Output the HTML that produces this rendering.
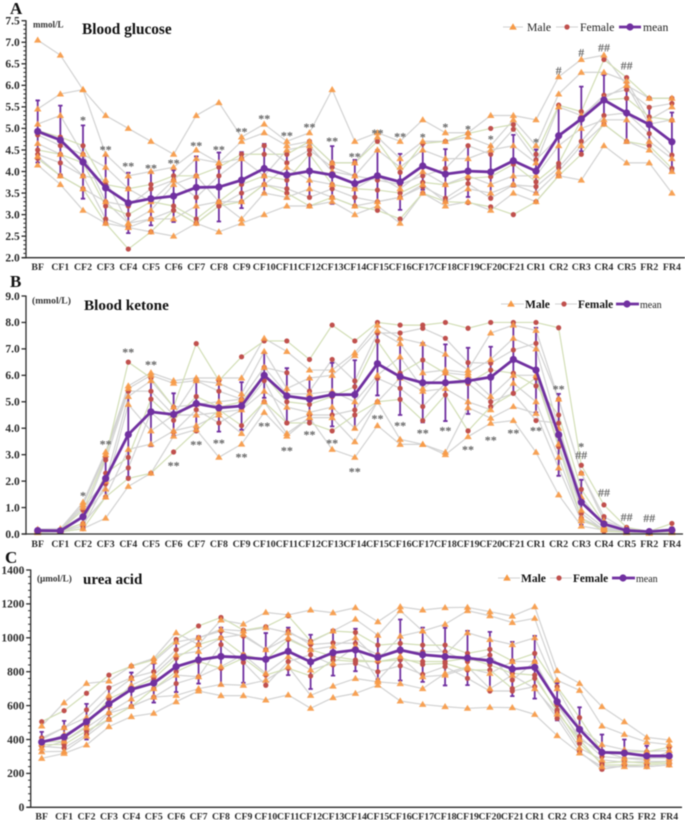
<!DOCTYPE html>
<html lang="en">
<head>
<meta charset="utf-8">
<title>Blood glucose, ketone and urea acid</title>
<style>
html,body{margin:0;padding:0;background:#fff;width:685px;height:820px;overflow:hidden}
svg{display:block;filter:blur(0.4px)}
text{font-family:"Liberation Serif",serif}
</style>
</head>
<body>
<svg id="chart" xmlns="http://www.w3.org/2000/svg" width="685" height="820" viewBox="0 0 685 820">
  <rect width="685" height="820" fill="#fff"/>
  <g id="panel-a"></g>
  <g id="panel-b"></g>
  <g id="panel-c"></g>

  <text x="10" y="14" font-size="17" font-weight="bold" fill="#111">A</text>
  <text x="10" y="287" font-size="17" font-weight="bold" fill="#111">B</text>
  <text x="5" y="563" font-size="17" font-weight="bold" fill="#111">C</text>

  <text x="82" y="34" font-size="15.3" font-weight="bold" fill="#111">Blood glucose</text>
  <text x="84" y="310" font-size="15.2" font-weight="bold" fill="#111">Blood ketone</text>
  <text x="83" y="584" font-size="15" font-weight="bold" fill="#111">urea acid</text>

  <text x="33" y="27.5" font-size="9" font-weight="bold" fill="#333">mmol/L</text>
  <text x="32" y="303.5" font-size="9.6" font-weight="bold" fill="#333">(mmol/L)</text>
  <text x="37" y="581.5" font-size="9.2" font-weight="bold" fill="#333">(μmol/L)</text>

  <g>
    <g>
      <line x1="503" y1="27" x2="523" y2="27" stroke="#d0d0d0" stroke-width="1.1"/>
      <polygon points="513,23.2 516.8,29.6 509.2,29.6" fill="#f79a46"/>
      <text x="527" y="31" font-size="11.7" fill="#222">Male</text>
    </g>
    <g>
      <line x1="556" y1="27" x2="578" y2="27" stroke="#d0d0d0" stroke-width="1.1"/>
      <circle cx="567" cy="27" r="2.6" fill="#c0504d"/>
      <text x="580" y="31" font-size="11.7" fill="#222">Female</text>
    </g>
    <g>
      <line x1="619" y1="27" x2="641" y2="27" stroke="#7030a0" stroke-width="2.8"/>
      <circle cx="630" cy="27" r="3.6" fill="#7030a0"/>
      <text x="643" y="31" font-size="11.7" fill="#222">mean</text>
    </g>
  </g>
  <g>
    <g>
      <line x1="501" y1="304" x2="524" y2="304" stroke="#d0d0d0" stroke-width="1.1"/>
      <polygon points="511,300.2 514.8,306.6 507.2,306.6" fill="#f79a46"/>
      <text x="525" y="308" font-size="11.5" font-weight="bold" fill="#111">Male</text>
    </g>
    <g>
      <line x1="555" y1="304" x2="577" y2="304" stroke="#d0d0d0" stroke-width="1.1"/>
      <circle cx="564" cy="304" r="2.6" fill="#c0504d"/>
      <text x="578" y="308" font-size="11.3" font-weight="bold" fill="#111">Female</text>
    </g>
    <g>
      <line x1="616" y1="304" x2="639" y2="304" stroke="#7030a0" stroke-width="2.8"/>
      <circle cx="627" cy="304" r="3.6" fill="#7030a0"/>
      <text x="640" y="308" font-size="10" fill="#222">mean</text>
    </g>
  </g>
  <g>
    <g>
      <line x1="498" y1="578" x2="520" y2="578" stroke="#d0d0d0" stroke-width="1.1"/>
      <polygon points="507,574.2 510.8,580.6 503.2,580.6" fill="#f79a46"/>
      <text x="521" y="582" font-size="11.5" font-weight="bold" fill="#111">Male</text>
    </g>
    <g>
      <line x1="550" y1="578" x2="572" y2="578" stroke="#d0d0d0" stroke-width="1.1"/>
      <circle cx="559" cy="578" r="2.6" fill="#c0504d"/>
      <text x="573" y="582" font-size="11.3" font-weight="bold" fill="#111">Female</text>
    </g>
    <g>
      <line x1="612" y1="578" x2="635" y2="578" stroke="#7030a0" stroke-width="2.8"/>
      <circle cx="623" cy="578" r="3.6" fill="#7030a0"/>
      <text x="636" y="582" font-size="10" fill="#222">mean</text>
    </g>
  </g>
</svg>
<script>
const categories = ["BF","CF1","CF2","CF3","CF4","CF5","CF6","CF7","CF8","CF9","CF10","CF11","CF12","CF13","CF14","CF15","CF16","CF17","CF18","CF19","CF20","CF21","CR1","CR2","CR3","CR4","CR5","FR2","FR4"];

/* Panel A: blood glucose */
const glucoseTicks = [2.0,2.5,3.0,3.5,4.0,4.5,5.0,5.5,6.0,6.5,7.0,7.5];
const glucoseMean = [4.93,4.73,4.22,3.62,3.27,3.37,3.43,3.63,3.64,3.8,4.07,3.92,4.01,3.92,3.72,3.9,3.76,4.13,3.94,4.01,3.99,4.25,4.01,4.83,5.22,5.66,5.36,5.09,4.69];
const glucoseSd = [.72,.8,.85,.75,.7,.62,.6,.72,.8,.65,.57,.55,.6,.67,.55,.6,.65,.55,.58,.6,.6,.6,.5,.7,.75,.58,.7,.4,.68];
const glucoseMale = [
 [7.05,6.7,5.9,5.3,5.0,4.7,4.4,5.3,5.6,4.8,5.1,4.7,4.9,5.9,4.7,4.9,4.7,5.2,4.9,4.9,5.3,5.3,5.2,6.2,6.6,6.7,6.0,5.7,5.7],
 [5.45,5.8,5.9,4.4,3.9,4.0,4.1,4.5,4.2,4.7,4.9,4.6,4.7,4.2,4.2,4.8,4.3,4.7,4.7,4.8,4.6,5.2,4.6,5.8,6.3,6.3,6.1,5.2,5.5],
 [5.1,5.3,4.4,4.1,3.6,3.3,3.8,4.3,4.2,4.3,3.9,4.5,4.6,4.0,3.9,4.5,4.1,4.5,4.3,4.3,4.5,4.6,4.2,5.5,5.3,5.7,6.0,5.1,5.2],
 [4.65,4.4,3.9,3.8,2.8,3.1,3.7,3.9,3.3,3.3,3.7,4.1,3.8,3.7,3.6,3.9,3.6,4.0,3.7,3.9,3.7,3.9,3.9,4.6,5.0,5.2,5.2,4.7,4.3],
 [4.35,3.9,3.6,3.3,2.8,2.9,2.9,3.2,3.3,2.9,3.5,3.4,3.6,3.4,3.2,3.3,3.4,3.7,3.3,3.6,3.5,3.7,3.5,4.0,4.6,5.1,4.7,4.5,4.0],
 [4.15,3.7,3.1,2.8,2.7,2.6,2.5,2.8,2.6,2.8,3.0,3.2,3.2,3.3,3.0,3.2,2.8,3.5,3.2,3.3,3.1,3.5,3.3,3.9,3.8,4.6,4.2,4.2,3.5]
];
const glucoseFemale = [
 [4.95,4.8,4.6,3.7,3.6,3.7,3.9,3.9,4.1,4.4,4.4,4.4,4.7,4.2,4.2,4.7,3.98,4.65,4.7,4.88,5.0,5.09,4.4,5.54,5.39,6.6,6.18,5.7,5.7],
 [4.85,4.6,4.4,3.3,3.2,3.6,3.8,3.4,3.9,4.3,4.6,4.2,4.5,4.1,3.9,3.8,3.7,3.9,4.07,4.6,4.4,4.98,4.27,4.8,5.27,5.77,5.9,5.49,5.58],
 [4.5,4.4,4.2,3.2,3.0,3.3,3.2,2.9,3.3,3.7,3.9,3.8,4.4,3.7,3.6,3.57,3.5,3.75,3.69,3.84,3.88,4.17,3.76,4.19,5.2,5.66,5.7,5.27,5.19],
 [4.4,4.2,3.9,2.9,2.7,2.9,3.1,2.8,3.2,3.5,3.7,3.6,3.4,3.6,3.4,3.3,3.4,3.65,3.38,3.72,3.38,3.69,3.65,4.09,4.7,5.3,5.36,4.88,4.38],
 [4.3,3.9,3.6,2.8,2.2,2.6,3.1,2.8,3.2,3.3,3.7,3.5,3.2,3.4,3.2,3.1,2.9,3.5,3.3,3.28,3.18,3.0,3.3,3.9,4.4,5.1,4.7,4.6,4.07]
];
const glucoseSigCats = ["CF2","CF3","CF4","CF5","CF6","CF7","CF8","CF9","CF10","CF11","CF12","CF13","CF14","CF15","CF16","CF17","CF18","CF19","CF20","CR1","CR2","CR3","CR4","CR5"];
const glucoseSigVals = [5.26,4.58,4.2,4.15,4.27,4.67,4.58,5.0,5.3,4.9,5.1,4.78,4.42,4.96,4.88,4.87,5.1,5.06,4.82,4.75,6.34,6.76,6.87,6.45];
const glucoseSigMarks = ["*","**","**","**","**","**","**","**","**","**","**","**","**","**","**","*","*","*","*","*","#","#","##","##"];

/* Panel B: blood ketone */
const ketoneTicks = [0,1,2,3,4,5,6,7,8,9];
const ketoneMean = [.13,.12,.65,2.1,3.76,4.62,4.52,4.93,4.77,4.84,6.0,5.22,5.1,5.27,5.27,6.44,5.95,5.72,5.72,5.79,5.93,6.6,6.2,3.75,1.2,.38,.13,.09,.15];
const ketoneSd = [.05,.05,.3,.75,1.6,1.3,.8,.95,.9,.9,.85,1.05,.8,1.2,1.3,1.2,1.45,1.5,1.45,1.25,1.15,1.3,1.6,1.55,.85,.2,.05,.03,.1];
const ketoneMale = [
 [.18,.2,1.2,3.1,5.6,6.1,5.8,5.9,5.9,5.9,7.4,6.9,6.2,6.2,6.85,7.9,7.4,7.2,6.8,6.2,7.6,7.9,7.7,5.1,2.3,.5,.2,.1,.2],
 [.15,.18,1.1,3.0,5.5,6.0,5.7,5.8,5.7,5.3,6.9,5.5,5.9,6.0,6.75,7.7,7.2,6.1,6.2,6.1,6.6,7.4,7.0,4.0,1.4,.3,.15,.08,.12],
 [.12,.15,1.0,2.0,5.2,5.8,4.8,4.9,5.0,5.1,6.3,5.3,5.3,5.4,5.0,6.0,6.7,5.5,6.1,6.0,5.2,6.0,6.0,3.4,.9,.25,.1,.07,.1],
 [.1,.12,.7,1.7,4.9,3.9,4.5,4.5,4.6,4.7,5.4,4.8,4.6,4.8,4.0,5.0,5.9,5.4,5.5,5.0,4.7,5.7,5.0,2.9,.6,.2,.1,.05,.08],
 [.08,.1,.4,1.4,3.2,3.4,3.9,4.1,4.5,3.8,5.0,3.8,4.4,4.4,3.49,5.0,3.58,3.39,3.09,4.78,4.38,4.82,4.56,2.5,.5,.2,.1,.05,.08],
 [.05,.08,.2,.6,1.8,2.3,3.7,3.95,2.9,3.4,4.6,3.7,4.4,3.2,2.9,4.1,3.39,3.39,3.0,3.68,4.19,4.29,3.09,1.48,.3,.15,.05,.03,.05]
];
const ketoneFemale = [
 [.15,.15,.9,2.9,6.5,5.9,4.8,7.2,5.8,6.7,7.3,7.3,6.6,7.9,7.3,8,7.9,7.9,8,7.78,8,8,8,7.8,2.6,1.1,.25,.1,.4],
 [.13,.13,.7,2.8,5.4,5.4,4.5,5.8,5.4,5.1,6.3,6.1,5.4,6.6,5.79,7.6,7.6,7.78,7.4,6.48,6.46,6.96,7.21,5.09,2.3,.66,.15,.1,.2],
 [.12,.12,.4,2.3,2.9,5.1,4.3,5.2,4.8,5.0,6.0,5.0,4.9,5.2,5.57,7.3,6.08,6.58,6.08,5.7,6.2,6.08,5.6,4.5,1.69,.4,.1,.08,.15],
 [.1,.1,.3,1.9,2.5,4.6,3.85,4.7,4.2,4.7,5.8,4.2,4.5,4.5,4.69,5.89,5.51,4.82,5.7,5.7,5.0,5.32,4.29,4.19,.78,.15,.1,.07,.1],
 [.08,.08,.2,1.4,2.1,2.3,3.1,3.9,4.7,4.1,5.0,4.2,4.2,3.9,4.5,5.0,5.09,4.29,5.26,3.9,4.82,5.32,5.9,3.3,.6,.1,.08,.05,.1]
];
const ketoneSigCats = ["CF2","CF3","CF4","CF5","CF6","CF7","CF8","CF9","CF10","CF11","CF12","CF13","CF14","CF15","CF16","CF17","CF18","CF19","CF20","CF21","CR1","CR2","CR3","CR3","CR4","CR5","FR2"];
const ketoneSigVals = [1.56,3.52,7.0,6.52,2.7,3.49,3.56,3.03,4.19,3.27,3.87,3.56,2.48,4.48,4.21,3.93,4.02,3.3,3.66,3.93,4.02,5.6,3.43,2.98,1.56,.63,.59];
const ketoneSigMarks = ["*","**","**","**","**","**","**","**","**","**","**","**","**","**","**","**","**","**","**","**","**","**","*","##","##","##","##"];

/* Panel C: urea acid */
const ureaTicks = [0,200,400,600,800,1000,1200,1400];
const ureaMean = [385,415,505,610,695,733,830,870,890,885,873,920,858,912,928,885,928,900,889,881,865,816,826,623,460,324,320,303,303];
const ureaSd = [60,95,105,100,100,115,150,140,170,150,155,140,160,135,125,130,180,160,170,160,170,160,185,110,130,105,80,60,55];
const ureaMale = [
 [480,617,731,745,835,879,1030,960,1105,1081,1150,1135,1164,1148,1178,1095,1183,1164,1178,1180,1154,1128,1183,806,731,594,505,413,397],
 [400,470,530,660,760,860,975,1000,1050,1040,1060,1030,975,1040,1110,1015,1160,1040,1080,1160,1130,1090,1115,750,690,480,430,385,370],
 [375,430,500,600,720,780,900,920,1000,1020,930,1000,930,950,1000,870,1010,1040,900,1030,990,960,1000,700,470,370,340,330,335],
 [350,390,470,560,640,700,780,770,830,900,790,890,810,850,950,750,890,770,780,820,790,860,860,620,400,330,290,290,290],
 [328,330,420,520,595,650,660,700,725,720,750,830,660,715,760,740,730,700,790,830,700,780,700,550,350,280,265,270,270],
 [289,318,368,476,535,555,623,686,659,659,633,663,584,647,672,721,627,607,594,584,590,588,548,423,320,240,240,240,250]
];
const ureaFemale = [
 [505,570,673,780,833,870,990,1070,1120,1045,1065,1130,980,1040,1032,957,967,957,957,908,932,863,908,712,529,328,328,328,354],
 [410,470,575,705,765,800,930,1000,1040,1010,930,1040,960,970,967,900,918,918,918,860,898,751,859,603,417,299,289,279,328],
 [385,390,480,640,700,760,880,960,1000,900,870,990,930,890,869,859,883,843,849,810,810,700,761,574,377,260,270,260,269],
 [360,350,430,555,595,650,730,770,960,855,720,860,900,840,849,800,835,784,830,761,686,686,712,525,328,224,246,240,250],
 [370,370,450,520,595,700,800,860,820,880,780,820,775,870,860,860,870,860,860,880,840,790,780,560,400,250,250,250,260]
];

const NS = 'http://www.w3.org/2000/svg';
function mk(parent, tag, attrs, txt) {
  const el = document.createElementNS(NS, tag);
  for (const k in attrs) el.setAttribute(k, attrs[k]);
  if (txt !== undefined) el.textContent = txt;
  parent.appendChild(el);
  return el;
}
function pointsFor(values, xs, ys) {
  return values.map(function (v, i) { return xs(i).toFixed(2) + ',' + ys(v).toFixed(2); }).join(' ');
}

function drawPanel(cfg) {
  const root = document.getElementById(cfg.id);
  const xs = function (i) { return cfg.x0 + i * cfg.dx; };
  const ys = function (v) { return cfg.yBottom - (v - cfg.min) / (cfg.max - cfg.min) * (cfg.yBottom - cfg.yTop); };
  const axisColor = '#2b2b2b';

  const greenLine = '#d2deb6';
  const grayLine = '#d2d2d2';

  cfg.male.forEach(function (s) {
    const line = mk(root, 'polyline', {points: pointsFor(s, xs, ys), fill: 'none', stroke: grayLine, 'stroke-width': 1.2});
    
    
  });
  cfg.female.forEach(function (s, n) {
    const line = mk(root, 'polyline', {points: pointsFor(s, xs, ys), fill: 'none', stroke: n % 2 === 0 ? greenLine : grayLine, 'stroke-width': 1.2});
    
    
  });

  cfg.mean.forEach(function (m, i) {
    const x = xs(i), hi = ys(m + cfg.sd[i]), lo = ys(m - cfg.sd[i]);
    const bar = mk(root, 'path', {d: 'M' + (x - 2.2) + ' ' + hi + 'H' + (x + 2.2) + 'M' + x + ' ' + hi + 'V' + lo + 'M' + (x - 2.2) + ' ' + lo + 'H' + (x + 2.2), fill: 'none', stroke: '#7030a0', 'stroke-width': 1.8});
    
    
  });

  cfg.female.forEach(function (s) {
    s.forEach(function (v, i) {
      const dot = mk(root, 'circle', {cx: xs(i), cy: ys(v), r: 2.6, fill: '#c0504d'});
      
      
    });
  });
  cfg.male.forEach(function (s) {
    s.forEach(function (v, i) {
      const x = xs(i), y = ys(v);
      const tri = mk(root, 'polygon', {points: x + ',' + (y - 3.6) + ' ' + (x + 3.7) + ',' + (y + 2.5) + ' ' + (x - 3.7) + ',' + (y + 2.5), fill: '#f79a46', opacity: 0.92});
      
      
    });
  });

  const meanLine = mk(root, 'polyline', {points: pointsFor(cfg.mean, xs, ys), fill: 'none', stroke: '#7030a0', 'stroke-width': 2.8, 'stroke-linejoin': 'round'});
  
  
  cfg.mean.forEach(function (m, i) {
    const dot = mk(root, 'circle', {cx: xs(i), cy: ys(m), r: 3.6, fill: '#7030a0'});
    
    
  });

  cfg.sigCats.forEach(function (c, n) {
    const mark = cfg.sigMarks[n];
    const off = mark.charAt(0) === '*' ? 7 : 3.8;
    const t = mk(root, 'text', {x: xs(categories.indexOf(c)), y: ys(cfg.sigVals[n]) + off, 'text-anchor': 'middle', 'font-size': 12, 'font-weight': 'bold', fill: '#666'}, mark);
    
    
  });

  const yAxis = mk(root, 'line', {x1: cfg.axisX, x2: cfg.axisX, y1: cfg.yTop - 0.5, y2: cfg.yBottom + 0.7, stroke: axisColor, 'stroke-width': 1.3});
  
  
  const xAxis = mk(root, 'line', {x1: cfg.axisX - 4, x2: cfg.axisEnd, y1: cfg.yBottom, y2: cfg.yBottom, stroke: axisColor, 'stroke-width': 1.3});
  
  

  cfg.ticks.forEach(function (v, n) {
    const y = ys(v);
    const tick = mk(root, 'line', {x1: cfg.axisX - 4.5, x2: cfg.axisX, y1: y, y2: y, stroke: axisColor, 'stroke-width': 1.3});
    
    
    const label = mk(root, 'text', {x: cfg.axisX - 6.3, y: y + 3.8, 'text-anchor': 'end', 'font-size': 11.5, 'font-weight': 'bold', fill: '#2b2b2b'}, cfg.tickFormat(v));
    
    
    if (cfg.minors && n < cfg.ticks.length - 1) {
      const step = (cfg.ticks[n + 1] - v) / (cfg.minors + 1);
      for (let k = 1; k <= cfg.minors; k++) {
        const my = ys(v + step * k);
        const minor = mk(root, 'line', {x1: cfg.axisX - 2.6, x2: cfg.axisX, y1: my, y2: my, stroke: axisColor, 'stroke-width': 1});
        
        
      }
    }
  });

  categories.forEach(function (c, i) {
    const label = mk(root, 'text', {x: xs(i), y: cfg.labelY, 'text-anchor': 'middle', 'font-size': 9.8, 'font-weight': 'bold', fill: '#2b2b2b'}, c);
    
    
  });
}

drawPanel({
  id: 'panel-a', x0: 37.7, dx: 22.65, axisX: 26, axisEnd: 685, yTop: 20.7, yBottom: 257.7, min: 2, max: 7.5, labelY: 270, minors: 4,
  ticks: glucoseTicks, tickFormat: function (v) { return v.toFixed(1); },
  mean: glucoseMean, sd: glucoseSd, male: glucoseMale, female: glucoseFemale,
  sigCats: glucoseSigCats, sigVals: glucoseSigVals, sigMarks: glucoseSigMarks
});
drawPanel({
  id: 'panel-b', x0: 37.7, dx: 22.65, axisX: 26, axisEnd: 683, yTop: 296, yBottom: 534, min: 0, max: 9, labelY: 547, minors: 0,
  ticks: ketoneTicks, tickFormat: function (v) { return v.toFixed(1); },
  mean: ketoneMean, sd: ketoneSd, male: ketoneMale, female: ketoneFemale,
  sigCats: ketoneSigCats, sigVals: ketoneSigVals, sigMarks: ketoneSigMarks
});
drawPanel({
  id: 'panel-c', x0: 41.7, dx: 22.41, axisX: 30.7, axisEnd: 682, yTop: 570, yBottom: 807.3, min: 0, max: 1400, labelY: 819.5, minors: 4,
  ticks: ureaTicks, tickFormat: function (v) { return String(v); },
  mean: ureaMean, sd: ureaSd, male: ureaMale, female: ureaFemale,
  sigCats: [], sigVals: [], sigMarks: []
});
</script>
</body>
</html>
